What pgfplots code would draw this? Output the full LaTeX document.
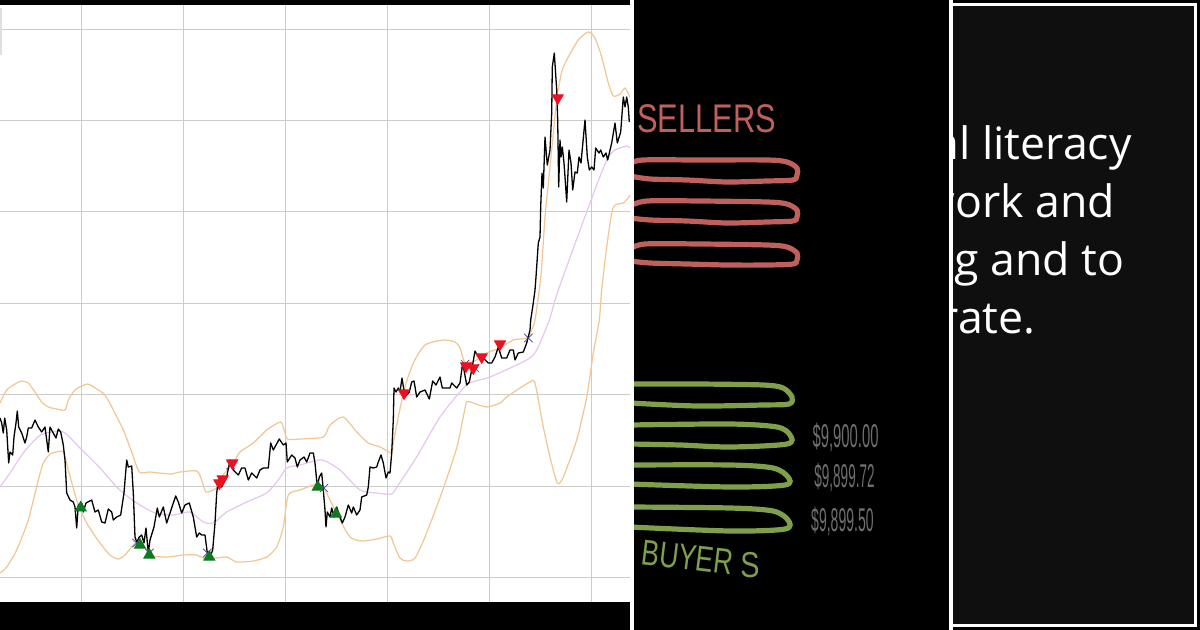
\documentclass[border=0pt]{standalone}
\usepackage{fontspec}
\usepackage{graphicx}
\usepackage{pgfplots}
\pgfplotsset{compat=1.18}
\setmainfont{Liberation Sans}
\newfontfamily\opensans{Open Sans}
\definecolor{band}{HTML}{F0C692}
\definecolor{mid}{HTML}{E6C6EE}
\definecolor{gridc}{HTML}{CCCCCC}
\definecolor{sell}{HTML}{C0605C}
\definecolor{buy}{HTML}{7F9F4A}
\definecolor{panel}{HTML}{0F0F0F}
\definecolor{buyg}{HTML}{0E7A20}
\definecolor{sellr}{HTML}{EC1020}
\definecolor{crossb}{HTML}{3C3C98}
\definecolor{price}{HTML}{6E6E6E}
\begin{document}
\begin{tikzpicture}
\useasboundingbox (0pt,0pt) rectangle (600pt,-315pt);
% backgrounds, in pixels of the 1200x630 picture
\begin{scope}[x=0.5pt,y=-0.5pt]
\fill[black] (0,0) rectangle (1200,630);
\fill[white] (630,0) rectangle (634,630);
\fill[white] (949,0) rectangle (953,630);
\fill[white] (949,3.3) rectangle (1196.7,626.5);
\fill[panel] (953,5.8) rectangle (1194.3,624);
\end{scope}

% price chart
\begin{axis}[
    at={(0pt,-301pt)}, anchor=south west,
    scale only axis, width=315pt, height=298.6pt,
    xmin=0, xmax=630, ymin=4.8, ymax=602, y dir=reverse,
    axis background/.style={fill=white},
    axis line style={draw=none},
    major tick length=0pt,
    xtick={81.7,183.3,285.3,387.7,489.3,591},
    ytick={29,120.3,211.7,303,394.3,486,577.3},
    xticklabels={}, yticklabels={},
    grid=major, grid style={gridc, line width=0.5pt},
]
\addplot[gray!25, line width=0.6pt] coordinates {(1,8) (1,55)};
\addplot[band, line width=0.6pt, smooth, tension=0.4] coordinates {
(0,403)(6.7,390)(15,384)(21.7,381)(28.3,383)(35,392)(41.7,402)(48.3,407)(56.7,409)(65,410)(68.3,400)(75,390)(87.3,384)(96.7,389)(105,395)(113.3,410)(123.3,430)(131.7,452)(139.3,472)(150,472)(170,474)(180,472)(196.7,471)(201.7,480)(206,492)(216.7,488)(221.7,477)(233.3,463)(240,452)(253.3,443)(266.7,430)(280,422)(283.3,427)(287.3,439)(300,439)(323.3,437)(330,425)(343.3,417)(356.7,432)(368.3,443)(380,447)(391.7,453)(393.3,443)(398.3,417)(405,387)(413.3,363)(425,345)(443.3,340)(455,342)(460,348)(465,363)(473,362)(486.7,353)(500,348)(513.3,340)(526.7,338)(531.7,330)(535,320)(539.3,290)(541.7,267)(545,217)(550,167)(556.7,100)(561.7,72)(566.7,60)(578.3,40)(588.3,32)(595,38)(601.7,57)(608.3,83)(613.3,96)(620,94)(625,88)(630,97)};
\addplot[band, line width=0.6pt, smooth, tension=0.4] coordinates {
(0,573)(6.7,567)(16.7,550)(28.3,520)(38.3,480)(43.3,463)(50,454)(56.7,452)(63.3,452)(68.3,470)(76.7,500)(86.7,523)(100,543)(110,555)(118.3,559)(125,555)(133.3,545)(140,540)(150,555)(166.7,557)(183.3,555)(196.7,555)(203.3,558)(216.7,558)(226.7,557)(236.7,562)(253.3,561)(266.7,557)(276.7,547)(283.3,527)(288.3,495)(300,490)(316.7,484)(323.3,487)(330,500)(340,520)(350,537)(361.7,541)(376.7,539)(390,536)(393.3,543)(400,558)(406.7,561)(415,558)(425,537)(441.7,493)(456.7,448)(463.3,417)(466.7,402)(473.3,403)(486.7,407)(500,403)(506.7,397)(520,388)(530,382)(535,383)(543.3,427)(550,457)(557.3,483)(563.3,477)(576.7,440)(586.7,397)(593.3,353)(599.3,320)(601.7,290)(606.7,247)(611.7,213)(615,205)(623.3,203)(628.3,198)(630,195)};
\addplot[mid, line width=0.6pt, smooth, tension=0.4] coordinates {
(0,487)(10,473)(23.3,453)(36.7,438)(45,433)(63.3,432)(80,448)(100,468)(116.7,487)(128.3,497)(140,505)(155,513)(173.3,515)(190,512)(203.3,522)(213.3,523)(226.7,512)(246.7,502)(266.7,493)(278.3,480)(286.7,468)(300,465)(321.7,460)(340,470)(360,490)(376.7,493)(391.7,494)(398.3,485)(416.7,457)(440,417)(466.7,385)(490,377)(526.7,360)(536.7,350)(549.3,320)(558.3,290)(590,203)(606.7,160)(615,150)(626.7,146)(630,148)};
\addplot[black, line width=0.65pt, line join=round] coordinates {
(0,418)(1.7,423)(3.3,433)(4.7,418)(6.7,430)(8.7,463)(10,452)(12.7,455)(14,437)(16,423)(17.3,411)(18.7,427)(21.7,433)(25,443)(26.7,437)(28.3,428)(31.7,428)(35,420)(38.3,427)(41.7,432)(45,427)(48.3,452)(50,427)(52.7,432)(56,438)(58.3,429)(60.7,432)(63.3,445)(65,460)(66.7,493)(70,500)(73.3,502)(75,507)(76.7,528)(78.3,505)(81.7,503)(83.3,512)(86,503)(91.7,500)(95,512)(98.3,510)(101.7,522)(105,523)(108.3,509)(111.7,512)(113.3,520)(116.7,517)(120.7,515)(124,493)(126.7,460)(128.3,467)(131.7,466)(133.3,493)(135,537)(136.7,542)(139.3,537)(141.7,535)(144,543)(146,528)(148.3,553)(150,540)(154,527)(157.3,508)(159.3,517)(163.3,507)(166.7,523)(170,513)(173.3,503)(175.7,496)(178.3,502)(181.7,513)(185,505)(189.3,503)(193.3,517)(196.7,537)(199.3,533)(201.7,535)(205,535)(207.3,553)(210,557)(212.7,550)(215,523)(216.7,493)(218.3,480)(221.7,487)(226.7,477)(230,460)(233.3,470)(238.3,475)(241.7,468)(245,468)(248.3,480)(251.7,473)(256.7,478)(260,470)(263.3,468)(268.3,468)(270.7,443)(273.3,450)(279.3,439)(283.3,445)(286,443)(287.3,462)(291.7,455)(295,458)(297.3,467)(300,460)(304,457)(306.7,462)(310,453)(313.3,453)(315,463)(317.3,487)(319.3,477)(321.7,473)(323.3,490)(325,510)(326,527)(327.3,512)(330,517)(331.7,508)(334,517)(336.7,507)(340,517)(342.3,523)(345,517)(348.3,505)(351.7,513)(353.3,507)(356.7,515)(360,510)(361.7,497)(366.7,495)(368.3,487)(370,467)(373.3,468)(376.7,467)(378.3,462)(381,455)(383.3,463)(386,478)(388.3,472)(390,473)(391.7,453)(393.3,420)(394,388)(396,392)(398.3,388)(400,392)(402,378)(405,397)(409.3,392)(411.7,382)(414,381)(416.7,397)(420,392)(425,390)(429.3,399)(432.7,381)(436,385)(440,377)(442.3,388)(446.7,388)(450,388)(451.7,383)(456.7,388)(460,383)(462.7,363)(466.7,385)(469.3,382)(471.7,370)(475,351)(478.3,357)(483.3,358)(488.3,363)(491.7,363)(495,357)(498.3,347)(501.7,358)(506.7,358)(510,350)(513.3,350)(515,360)(518.3,353)(523.3,352)(526.7,343)(530,330)(530.7,320)(533,305)(535,290)(536,277)(538.3,243)(540,237)(540.7,207)(542,173)(543.3,188)(545,137)(547.3,165)(550,150)(551.7,113)(552.3,67)(554.3,53)(556.7,90)(557.7,120)(558.7,187)(560,140)(561,157)(562.3,147)(564,163)(565,177)(566.7,202)(569,150)(571,163)(572.7,190)(575,172)(577.3,173)(579,157)(581,163)(585,120)(587.3,157)(589.3,170)(591.7,167)(594,170)(595.7,148)(599,153)(600.7,150)(603.3,157)(606,153)(607.7,160)(611.7,143)(615,123)(617.3,143)(620.7,132)(623.3,97)(625,107)(626.7,97)(628.3,107)(629.3,122)};
\addplot[only marks, mark=x, mark size=3pt, mark options={crossb, line width=0.35pt}] coordinates {
(136.7,543)(149.3,553)(207.3,553)(230.7,465)(324,488)(465,364)(475,368)(528.3,338)};
\addplot[only marks, mark=triangle*, mark size=3.2pt, mark options={buyg, draw=buyg}] coordinates {
(80.7,507.7)(140,545)(149.3,555)(209.3,557)(317.7,487)(336,514)};
\addplot[only marks, mark=triangle*, mark size=3.2pt, mark options={sellr, draw=sellr, rotate=180}] coordinates {
(219.3,483)(222.7,479)(232.3,463)(404,393)(466,366)(473.3,368)(481.7,357)(500,344)(557.7,98)};
\end{axis}

% order book, hand drawn pills
\begin{axis}[
    at={(317pt,-315pt)}, anchor=south west,
    scale only axis, width=158pt, height=315pt,
    xmin=634, xmax=950, ymin=0, ymax=630, y dir=reverse,
    hide axis,
]
\addplot[sell, line width=2.6pt, smooth, tension=0.5] coordinates {
(630,164)(643,160)(700,160)(767,160)(787,162)(797,168)(797,175)(793,180)(767,181)(727,182)(687,180)(650,179)(630,176)};
\addplot[sell, line width=2.6pt, smooth, tension=0.5] coordinates {
(630,206)(647,201)(700,201)(767,202)(787,204)(797,210)(797,217)(793,221)(767,222)(727,223)(687,221)(650,220)(630,218)};
\addplot[sell, line width=2.6pt, smooth, tension=0.5] coordinates {
(630,249)(645,244)(700,244)(767,245)(787,247)(797,253)(797,260)(793,264)(767,265)(727,265)(687,264)(650,263)(630,261)};
\addplot[buy, line width=2.6pt, smooth, tension=0.5] coordinates {
(630,384)(697,384)(763,385)(783,388)(792,397)(789,404)(763,405)(697,406)(630,403)};
\addplot[buy, line width=2.6pt, smooth, tension=0.5] coordinates {
(630,425)(730,424)(777,427)(790,435)(787,444)(730,447)(680,445)(630,444)};
\addplot[buy, line width=2.6pt, smooth, tension=0.5] coordinates {
(630,465)(730,465)(773,468)(788,477)(785,485)(730,487)(630,484)};
\addplot[buy, line width=2.6pt, smooth, tension=0.5] coordinates {
(630,507)(730,508)(773,511)(788,520)(785,529)(730,531)(630,527)};
\end{axis}

% text, in pixels again
\begin{scope}[x=0.5pt,y=-0.5pt]
\node[anchor=base west, inner sep=0pt, text=sell, font=\fontsize{20}{20}\selectfont] at (637,133)
  {\scalebox{0.77}[1]{SELLERS}};
\node[anchor=base west, inner sep=0pt, text=buy, rotate=-7, font=\fontsize{18}{18}\selectfont] at (640,564)
  {\scalebox{0.74}[1]{BUYER}};
\node[anchor=base west, inner sep=0pt, text=buy, font=\fontsize{18}{18}\selectfont] at (740,577)
  {\scalebox{0.8}[1]{S}};
\node[anchor=base east, inner sep=0pt, text=price, font=\fontsize{16.5}{16.5}\selectfont] at (879,447.5)
  {\scalebox{0.45}[1]{\$9,900.00}};
\node[anchor=base east, inner sep=0pt, text=price, font=\fontsize{16.5}{16.5}\selectfont] at (875,488)
  {\scalebox{0.41}[1]{\$9,899.72}};
\node[anchor=base east, inner sep=0pt, text=price, font=\fontsize{16.5}{16.5}\selectfont] at (874,531)
  {\scalebox{0.425}[1]{\$9,899.50}};
\begin{scope}
\clip (953,6) rectangle (1194,624);
\node[anchor=base east, inner sep=0pt, text=white, font=\opensans\fontsize{22.3}{22.3}\selectfont] at (1132,160) {al literacy};
\node[anchor=base east, inner sep=0pt, text=white, font=\opensans\fontsize{22.3}{22.3}\selectfont] at (1115.5,218) {work and};
\node[anchor=base east, inner sep=0pt, text=white, font=\opensans\fontsize{22.3}{22.3}\selectfont] at (1124.5,276) {ng and to};
\node[anchor=base east, inner sep=0pt, text=white, font=\opensans\fontsize{22.3}{22.3}\selectfont] at (1036,334) {rate.};
\end{scope}
\end{scope}
\end{tikzpicture}
\end{document}
